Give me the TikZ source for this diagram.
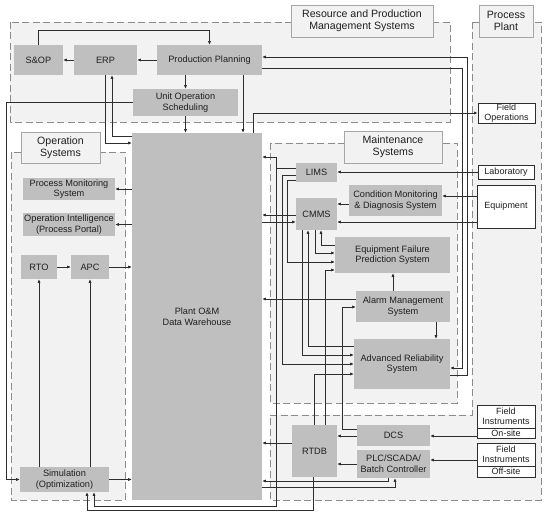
\documentclass[tikz,border=0pt]{standalone}
\usepackage{fontspec}
\setmainfont{Liberation Sans}
\usetikzlibrary{arrows.meta}
\definecolor{panelfill}{HTML}{F2F2F2}
\definecolor{paneldraw}{HTML}{8C8C8C}
\definecolor{boxfill}{HTML}{BFBFBF}
\definecolor{titledraw}{HTML}{A6A6A6}
\definecolor{linec}{HTML}{2E2E2E}
\definecolor{txt}{HTML}{1F1F1F}
\begin{document}
\begin{tikzpicture}[x=1pt,y=-1pt,
  panel/.style={fill=panelfill, draw=paneldraw, line width=0.9pt, dash pattern=on 7pt off 3.5pt},
  titlebox/.style={fill=panelfill, draw=titledraw, line width=0.8pt, inner sep=0pt, align=center, font=\fontsize{10.6}{12.4}\selectfont, text=txt},
  gbox/.style={fill=boxfill, inner sep=0pt, align=center, font=\fontsize{9.2}{10.6}\selectfont, text=txt},
  wbox/.style={fill=white, draw=linec, line width=0.7pt, inner sep=0pt, align=center, font=\fontsize{9}{10.4}\selectfont, text=txt},
  conn/.style={draw=linec, line width=0.75pt},
  arr/.style={conn, -{Latex[length=3.6pt,width=3.2pt]}},
]
\useasboundingbox (0,0) rectangle (550,518);
% panels
\draw[panel] (10,22) rectangle (450,122);
\draw[panel] (11,152) rectangle (125,500);
\draw[panel] (270,143) rectangle (457,403);
\draw[panel] (472,22) -- (541,22) -- (541,500) -- (270,500) -- (270,415) -- (472,415) -- cycle;
% titles
\node[titlebox, minimum width=142, minimum height=32] (t1) at (362,21) {Resource and Production\\Management Systems};
\node[titlebox, minimum width=54, minimum height=32] (t2) at (506,21) {Process\\Plant};
\node[titlebox, minimum width=79, minimum height=31] (t3) at (60.5,147.5) {Operation\\Systems};
\node[titlebox, minimum width=98, minimum height=32] (t4) at (393,147) {Maintenance\\Systems};
% boxes
\node[gbox, minimum width=49, minimum height=30] (sop) at (38.5,60) {S\&OP};
\node[gbox, minimum width=63, minimum height=30] (erp) at (105.5,60) {ERP};
\node[gbox, minimum width=105, minimum height=30] (pp) at (209.5,60) {Production Planning};
\node[gbox, minimum width=105, minimum height=27] (uos) at (185.5,102.5) {Unit Operation\\Scheduling};
\node[gbox, minimum width=130, minimum height=367] (dw) at (197,316.5) {Plant O\&M\\Data Warehouse};
\node[gbox, minimum width=92, minimum height=22] (pms) at (69,189) {Process Monitoring\\System};
\node[gbox, minimum width=92, minimum height=23] (oi) at (69,224.5) {Operation Intelligence\\(Process Portal)};
\node[gbox, minimum width=36, minimum height=24] (rto) at (39,267) {RTO};
\node[gbox, minimum width=38, minimum height=24] (apc) at (90,267) {APC};
\node[gbox, minimum width=89, minimum height=25] (sim) at (64.5,479.5) {Simulation\\(Optimization)};
\node[gbox, minimum width=41, minimum height=19] (lims) at (316.5,172.5) {LIMS};
\node[gbox, minimum width=41, minimum height=32] (cmms) at (316.5,214) {CMMS};
\node[gbox, minimum width=93, minimum height=31] (cmds) at (395.5,200.5) {Condition Monitoring\\\& Diagnosis System};
\node[gbox, minimum width=115, minimum height=36] (efps) at (392.5,255) {Equipment Failure\\Prediction System};
\node[gbox, minimum width=94, minimum height=31] (ams) at (403,306.5) {Alarm Management\\System};
\node[gbox, minimum width=96, minimum height=50] (ars) at (402,364) {Advanced Reliability\\System};
\node[gbox, minimum width=45, minimum height=52] (rtdb) at (314.5,451) {RTDB};
\node[gbox, minimum width=73, minimum height=21] (dcs) at (393.5,435.5) {DCS};
\node[gbox, minimum width=73, minimum height=28] (plc) at (393.5,464) {PLC/SCADA/\\Batch Controller};
\node[wbox, minimum width=57, minimum height=20] (fo) at (506.5,113) {Field\\Operations};
\node[wbox, minimum width=56, minimum height=14] (lab) at (506,172) {Laboratory};
\node[wbox, minimum width=58, minimum height=43] (equip) at (506,206.5) {Equipment};
\node[wbox, minimum width=58, minimum height=23] (fiona) at (506,416.5) {Field\\Instruments};
\node[wbox, minimum width=58, minimum height=10] (fionb) at (506,433) {On-site};
\node[wbox, minimum width=58, minimum height=23] (fioffa) at (506,454.5) {Field\\Instruments};
\node[wbox, minimum width=58, minimum height=11] (fioffb) at (506,471.5) {Off-site};
% connectors - resource
\draw[arr] (sop.north) -- ++(0,-14) -| (pp.north);
\draw[arr] (pp.west) -- (erp.east);
\draw[arr] (erp.west) -- (sop.east);
\draw[arr] (pp.south -| uos.north) -- (uos.north);
\draw[arr] (uos.south) -- (uos.south |- dw.north);
\draw[arr] (pp.south -| 243,0) -- (dw.north -| 243,0);
\draw[arr] (dw.north -| 253,0) |- (fo.west);
\draw[arr] (erp.south) |- (dw.west |- 0,143);
\draw[arr] (dw.west |- 0,136) -| (erp.south -| 112,0);
\draw[arr] (uos.west) -- (uos.west -| 6,0) |- (sim.west);
\draw[arr] (pp.east |- 0,68) -- (462,68) |- (ars.east |- 0,368);
\draw[arr] (ars.east |- 0,375) -- (467,375) |- (pp.east |- 0,57);
% operation
\draw[arr] (dw.west |- pms.east) -- (pms.east);
\draw[arr] (dw.west |- oi.east) -- (oi.east);
\draw[arr] (rto.east) -- (apc.west);
\draw[arr] (apc.east) -- (dw.west |- apc.east);
\draw[arr] (sim.north -| rto.south) -- (rto.south);
\draw[arr] (sim.north -| apc.south) -- (apc.south);
\draw[arr] (sim.east) -- (dw.west |- sim.east);
% maintenance
\draw[arr] (lims.west |- 0,168) -- (276,168) |- (dw.east |- 0,157);
\draw[arr] (lims.west |- 0,168) -- (276,168) |- (94,506) -- (sim.south -| 94,0);
\draw[arr] (lims.west |- 0,175) -- (282,175) |- (ars.west |- 0,364);
\draw[arr] (lims.west |- 0,180) -- (287,180) |- (efps.west |- 0,262);
\draw[arr] (lab.west) -- (lims.east |- lab.west);
\draw[arr] (cmds.west |- 0,204) -- (cmms.east |- 0,204);
\draw[arr] (equip.west |- 0,196) -- (cmds.east |- 0,196);
\draw[arr] (equip.west |- 0,222) -- (cmms.east |- 0,222);
\draw[arr] (cmms.west |- 0,215) -- (dw.east |- 0,215);
\draw[arr] (dw.east |- 0,222) -- (cmms.west |- 0,222);
\draw[arr] (cmms.south -| 302,0) |- (ars.west |- 0,355);
\draw[arr] (ars.west |- 0,346) -| (cmms.south -| 308,0);
\draw[arr] (cmms.south -| 315,0) |- (efps.west |- 0,253);
\draw[arr] (efps.west |- 0,245) -| (cmms.south -| 321,0);
\draw[arr] (rtdb.north -| 325,0) |- (efps.west |- 0,270);
\draw[arr] (rtdb.north -| 314,0) |- (ars.west |- 0,374);
\draw[arr] (rtdb.south -| 313,0) -- (313,510) -| (sim.south -| 87,0);
\draw[arr] (ams.north -| 393,0) -- (efps.south -| 393,0);
\draw[arr] (ams.south -| 436,0) -- (ars.north -| 436,0);
\draw[arr] (ams.west |- 0,299) -- (dw.east |- 0,299);
% plant
\draw[arr] (dcs.west |- 0,429) -- (342,429) |- (ams.west |- 0,307);
\draw[arr] (dcs.west |- 0,436) -- (rtdb.east |- 0,436);
\draw[arr] (plc.west) -- (rtdb.east |- plc.west);
\draw[arr] (rtdb.west |- 0,443) -- (dw.east |- 0,443);
\draw[arr] (fionb.west |- 0,436) -- (dcs.east |- 0,436);
\draw[arr] (fioffa.west |- 0,460) -- (plc.east |- 0,460);
\draw[arr] (plc.south -| 388,0) -- (388,481) -- (dw.east |- 0,481);
\draw[arr] (dw.east |- 0,487) -| (plc.south -| 395,0);
\end{tikzpicture}
\end{document}
